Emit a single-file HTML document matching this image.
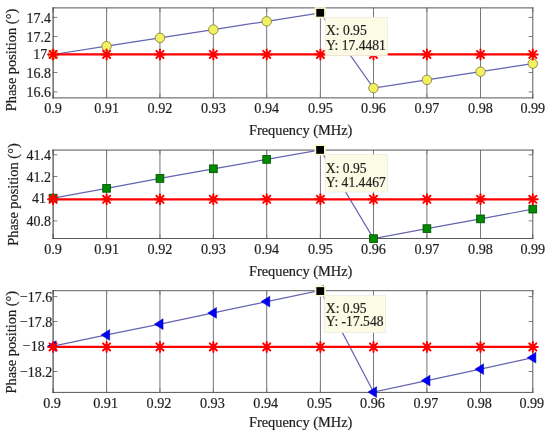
<!DOCTYPE html>
<html><head><meta charset="utf-8"><style>
html,body{margin:0;padding:0;background:#fff;width:550px;height:434px;overflow:hidden}
svg{display:block}
</style></head><body>
<svg width="550" height="434" viewBox="0 0 550 434" font-family="'Liberation Serif','Times New Roman',serif"><style>text{stroke:#1e1e1e;stroke-width:0.2px;paint-order:stroke}</style>
<rect width="550" height="434" fill="#fff"/>
<line x1="106.60" y1="7.90" x2="106.60" y2="97.90" stroke="#767676" stroke-width="1"/>
<line x1="159.95" y1="7.90" x2="159.95" y2="97.90" stroke="#767676" stroke-width="1"/>
<line x1="213.35" y1="7.90" x2="213.35" y2="97.90" stroke="#767676" stroke-width="1"/>
<line x1="266.70" y1="7.90" x2="266.70" y2="97.90" stroke="#767676" stroke-width="1"/>
<line x1="320.40" y1="7.90" x2="320.40" y2="97.90" stroke="#767676" stroke-width="1"/>
<line x1="373.50" y1="7.90" x2="373.50" y2="97.90" stroke="#767676" stroke-width="1"/>
<line x1="426.90" y1="7.90" x2="426.90" y2="97.90" stroke="#767676" stroke-width="1"/>
<line x1="480.50" y1="7.90" x2="480.50" y2="97.90" stroke="#767676" stroke-width="1"/>
<line x1="53.10" y1="93.60" x2="53.10" y2="97.90" stroke="#7e7e7e" stroke-width="1"/>
<line x1="53.10" y1="7.90" x2="53.10" y2="12.20" stroke="#7e7e7e" stroke-width="1"/>
<line x1="106.60" y1="93.60" x2="106.60" y2="97.90" stroke="#7e7e7e" stroke-width="1"/>
<line x1="106.60" y1="7.90" x2="106.60" y2="12.20" stroke="#7e7e7e" stroke-width="1"/>
<line x1="159.95" y1="93.60" x2="159.95" y2="97.90" stroke="#7e7e7e" stroke-width="1"/>
<line x1="159.95" y1="7.90" x2="159.95" y2="12.20" stroke="#7e7e7e" stroke-width="1"/>
<line x1="213.35" y1="93.60" x2="213.35" y2="97.90" stroke="#7e7e7e" stroke-width="1"/>
<line x1="213.35" y1="7.90" x2="213.35" y2="12.20" stroke="#7e7e7e" stroke-width="1"/>
<line x1="266.70" y1="93.60" x2="266.70" y2="97.90" stroke="#7e7e7e" stroke-width="1"/>
<line x1="266.70" y1="7.90" x2="266.70" y2="12.20" stroke="#7e7e7e" stroke-width="1"/>
<line x1="320.40" y1="93.60" x2="320.40" y2="97.90" stroke="#7e7e7e" stroke-width="1"/>
<line x1="320.40" y1="7.90" x2="320.40" y2="12.20" stroke="#7e7e7e" stroke-width="1"/>
<line x1="373.50" y1="93.60" x2="373.50" y2="97.90" stroke="#7e7e7e" stroke-width="1"/>
<line x1="373.50" y1="7.90" x2="373.50" y2="12.20" stroke="#7e7e7e" stroke-width="1"/>
<line x1="426.90" y1="93.60" x2="426.90" y2="97.90" stroke="#7e7e7e" stroke-width="1"/>
<line x1="426.90" y1="7.90" x2="426.90" y2="12.20" stroke="#7e7e7e" stroke-width="1"/>
<line x1="480.50" y1="93.60" x2="480.50" y2="97.90" stroke="#7e7e7e" stroke-width="1"/>
<line x1="480.50" y1="7.90" x2="480.50" y2="12.20" stroke="#7e7e7e" stroke-width="1"/>
<line x1="532.80" y1="93.60" x2="532.80" y2="97.90" stroke="#7e7e7e" stroke-width="1"/>
<line x1="532.80" y1="7.90" x2="532.80" y2="12.20" stroke="#7e7e7e" stroke-width="1"/>
<line x1="53.10" y1="17.40" x2="57.40" y2="17.40" stroke="#7e7e7e" stroke-width="1"/>
<line x1="528.60" y1="17.40" x2="532.80" y2="17.40" stroke="#7e7e7e" stroke-width="1"/>
<line x1="53.10" y1="36.50" x2="57.40" y2="36.50" stroke="#7e7e7e" stroke-width="1"/>
<line x1="528.60" y1="36.50" x2="532.80" y2="36.50" stroke="#7e7e7e" stroke-width="1"/>
<line x1="53.10" y1="53.70" x2="57.40" y2="53.70" stroke="#7e7e7e" stroke-width="1"/>
<line x1="528.60" y1="53.70" x2="532.80" y2="53.70" stroke="#7e7e7e" stroke-width="1"/>
<line x1="53.10" y1="72.50" x2="57.40" y2="72.50" stroke="#7e7e7e" stroke-width="1"/>
<line x1="528.60" y1="72.50" x2="532.80" y2="72.50" stroke="#7e7e7e" stroke-width="1"/>
<line x1="53.10" y1="91.90" x2="57.40" y2="91.90" stroke="#7e7e7e" stroke-width="1"/>
<line x1="528.60" y1="91.90" x2="532.80" y2="91.90" stroke="#7e7e7e" stroke-width="1"/>
<line x1="52.50" y1="7.90" x2="533.40" y2="7.90" stroke="#555555" stroke-width="1"/>
<line x1="52.50" y1="97.90" x2="533.40" y2="97.90" stroke="#555555" stroke-width="1"/>
<line x1="53.10" y1="7.30" x2="53.10" y2="98.50" stroke="#3a3a3a" stroke-width="1.1"/>
<line x1="532.80" y1="7.30" x2="532.80" y2="98.50" stroke="#5a5a5a" stroke-width="1"/>
<polyline points="53.10,54.50 106.60,46.20 159.95,37.90 213.35,29.60 266.70,21.30 320.40,12.90 373.50,88.10 426.90,79.90 480.50,71.70 532.80,63.60" fill="none" stroke="#6464b0" stroke-width="1.2"/>
<circle cx="53.10" cy="54.50" r="4.75" fill="#f4f064" stroke="#84843a" stroke-width="0.9"/>
<circle cx="106.60" cy="46.20" r="4.75" fill="#f4f064" stroke="#84843a" stroke-width="0.9"/>
<circle cx="159.95" cy="37.90" r="4.75" fill="#f4f064" stroke="#84843a" stroke-width="0.9"/>
<circle cx="213.35" cy="29.60" r="4.75" fill="#f4f064" stroke="#84843a" stroke-width="0.9"/>
<circle cx="266.70" cy="21.30" r="4.75" fill="#f4f064" stroke="#84843a" stroke-width="0.9"/>
<circle cx="320.40" cy="12.90" r="4.75" fill="#f4f064" stroke="#84843a" stroke-width="0.9"/>
<circle cx="373.50" cy="88.10" r="4.75" fill="#f4f064" stroke="#84843a" stroke-width="0.9"/>
<circle cx="426.90" cy="79.90" r="4.75" fill="#f4f064" stroke="#84843a" stroke-width="0.9"/>
<circle cx="480.50" cy="71.70" r="4.75" fill="#f4f064" stroke="#84843a" stroke-width="0.9"/>
<circle cx="532.80" cy="63.60" r="4.75" fill="#f4f064" stroke="#84843a" stroke-width="0.9"/>
<line x1="53.10" y1="54.40" x2="532.80" y2="54.40" stroke="#ff0000" stroke-width="2.3"/>
<path d="M48.10 54.40L58.10 54.40M49.56 50.86L56.64 57.94M53.10 49.40L53.10 59.40M56.64 50.86L49.56 57.94" stroke="#ff0000" stroke-width="2.0" stroke-linecap="round" fill="none"/>
<path d="M101.60 54.40L111.60 54.40M103.06 50.86L110.14 57.94M106.60 49.40L106.60 59.40M110.14 50.86L103.06 57.94" stroke="#ff0000" stroke-width="2.0" stroke-linecap="round" fill="none"/>
<path d="M154.95 54.40L164.95 54.40M156.41 50.86L163.49 57.94M159.95 49.40L159.95 59.40M163.49 50.86L156.41 57.94" stroke="#ff0000" stroke-width="2.0" stroke-linecap="round" fill="none"/>
<path d="M208.35 54.40L218.35 54.40M209.81 50.86L216.89 57.94M213.35 49.40L213.35 59.40M216.89 50.86L209.81 57.94" stroke="#ff0000" stroke-width="2.0" stroke-linecap="round" fill="none"/>
<path d="M261.70 54.40L271.70 54.40M263.16 50.86L270.24 57.94M266.70 49.40L266.70 59.40M270.24 50.86L263.16 57.94" stroke="#ff0000" stroke-width="2.0" stroke-linecap="round" fill="none"/>
<path d="M315.40 54.40L325.40 54.40M316.86 50.86L323.94 57.94M320.40 49.40L320.40 59.40M323.94 50.86L316.86 57.94" stroke="#ff0000" stroke-width="2.0" stroke-linecap="round" fill="none"/>
<path d="M368.50 54.40L378.50 54.40M369.96 50.86L377.04 57.94M373.50 49.40L373.50 59.40M377.04 50.86L369.96 57.94" stroke="#ff0000" stroke-width="2.0" stroke-linecap="round" fill="none"/>
<path d="M421.90 54.40L431.90 54.40M423.36 50.86L430.44 57.94M426.90 49.40L426.90 59.40M430.44 50.86L423.36 57.94" stroke="#ff0000" stroke-width="2.0" stroke-linecap="round" fill="none"/>
<path d="M475.50 54.40L485.50 54.40M476.96 50.86L484.04 57.94M480.50 49.40L480.50 59.40M484.04 50.86L476.96 57.94" stroke="#ff0000" stroke-width="2.0" stroke-linecap="round" fill="none"/>
<path d="M527.80 54.40L537.80 54.40M529.26 50.86L536.34 57.94M532.80 49.40L532.80 59.40M536.34 50.86L529.26 57.94" stroke="#ff0000" stroke-width="2.0" stroke-linecap="round" fill="none"/>
<text x="51.00" y="22.80" font-size="14" text-anchor="end" fill="#1e1e1e">17.4</text>
<text x="51.00" y="41.90" font-size="14" text-anchor="end" fill="#1e1e1e">17.2</text>
<text x="47.20" y="59.10" font-size="14" text-anchor="end" fill="#1e1e1e">17</text>
<text x="51.00" y="77.90" font-size="14" text-anchor="end" fill="#1e1e1e">16.8</text>
<text x="51.00" y="97.30" font-size="14" text-anchor="end" fill="#1e1e1e">16.6</text>
<text x="53.10" y="113.20" font-size="14.2" text-anchor="middle" fill="#1e1e1e">0.9</text>
<text x="106.60" y="113.20" font-size="14.2" text-anchor="middle" fill="#1e1e1e">0.91</text>
<text x="159.95" y="113.20" font-size="14.2" text-anchor="middle" fill="#1e1e1e">0.92</text>
<text x="213.35" y="113.20" font-size="14.2" text-anchor="middle" fill="#1e1e1e">0.93</text>
<text x="266.70" y="113.20" font-size="14.2" text-anchor="middle" fill="#1e1e1e">0.94</text>
<text x="320.40" y="113.20" font-size="14.2" text-anchor="middle" fill="#1e1e1e">0.95</text>
<text x="373.50" y="113.20" font-size="14.2" text-anchor="middle" fill="#1e1e1e">0.96</text>
<text x="426.90" y="113.20" font-size="14.2" text-anchor="middle" fill="#1e1e1e">0.97</text>
<text x="480.50" y="113.20" font-size="14.2" text-anchor="middle" fill="#1e1e1e">0.98</text>
<text x="532.80" y="113.20" font-size="14.2" text-anchor="middle" fill="#1e1e1e">0.99</text>
<text x="248.9" y="134.80" font-size="14.4" fill="#1e1e1e">Frequency (MHz)</text>
<text transform="translate(16.10,111.30) rotate(-90)" font-size="14.4" fill="#1e1e1e">Phase position (°)</text>
<rect x="314.60" y="7.20" width="11.2" height="11.2" fill="#fbf8cf"/>
<rect x="316.30" y="8.90" width="7.8" height="7.8" fill="#000"/>
<rect x="325.20" y="17.30" width="62.30" height="38.50" fill="#fcfce6" stroke="#e4e4dc" stroke-width="0.6"/>
<text x="325.90" y="34.60" font-size="13.6" fill="#1e1e1e">X: 0.95</text>
<text x="325.90" y="49.60" font-size="13.6" fill="#1e1e1e">Y: 17.4481</text>
<line x1="106.60" y1="150.07" x2="106.60" y2="238.50" stroke="#767676" stroke-width="1"/>
<line x1="159.95" y1="150.07" x2="159.95" y2="238.50" stroke="#767676" stroke-width="1"/>
<line x1="213.35" y1="150.07" x2="213.35" y2="238.50" stroke="#767676" stroke-width="1"/>
<line x1="266.70" y1="150.07" x2="266.70" y2="238.50" stroke="#767676" stroke-width="1"/>
<line x1="320.40" y1="150.07" x2="320.40" y2="238.50" stroke="#767676" stroke-width="1"/>
<line x1="373.50" y1="150.07" x2="373.50" y2="238.50" stroke="#767676" stroke-width="1"/>
<line x1="426.90" y1="150.07" x2="426.90" y2="238.50" stroke="#767676" stroke-width="1"/>
<line x1="480.50" y1="150.07" x2="480.50" y2="238.50" stroke="#767676" stroke-width="1"/>
<line x1="53.10" y1="234.20" x2="53.10" y2="238.50" stroke="#7e7e7e" stroke-width="1"/>
<line x1="53.10" y1="150.07" x2="53.10" y2="154.37" stroke="#7e7e7e" stroke-width="1"/>
<line x1="106.60" y1="234.20" x2="106.60" y2="238.50" stroke="#7e7e7e" stroke-width="1"/>
<line x1="106.60" y1="150.07" x2="106.60" y2="154.37" stroke="#7e7e7e" stroke-width="1"/>
<line x1="159.95" y1="234.20" x2="159.95" y2="238.50" stroke="#7e7e7e" stroke-width="1"/>
<line x1="159.95" y1="150.07" x2="159.95" y2="154.37" stroke="#7e7e7e" stroke-width="1"/>
<line x1="213.35" y1="234.20" x2="213.35" y2="238.50" stroke="#7e7e7e" stroke-width="1"/>
<line x1="213.35" y1="150.07" x2="213.35" y2="154.37" stroke="#7e7e7e" stroke-width="1"/>
<line x1="266.70" y1="234.20" x2="266.70" y2="238.50" stroke="#7e7e7e" stroke-width="1"/>
<line x1="266.70" y1="150.07" x2="266.70" y2="154.37" stroke="#7e7e7e" stroke-width="1"/>
<line x1="320.40" y1="234.20" x2="320.40" y2="238.50" stroke="#7e7e7e" stroke-width="1"/>
<line x1="320.40" y1="150.07" x2="320.40" y2="154.37" stroke="#7e7e7e" stroke-width="1"/>
<line x1="373.50" y1="234.20" x2="373.50" y2="238.50" stroke="#7e7e7e" stroke-width="1"/>
<line x1="373.50" y1="150.07" x2="373.50" y2="154.37" stroke="#7e7e7e" stroke-width="1"/>
<line x1="426.90" y1="234.20" x2="426.90" y2="238.50" stroke="#7e7e7e" stroke-width="1"/>
<line x1="426.90" y1="150.07" x2="426.90" y2="154.37" stroke="#7e7e7e" stroke-width="1"/>
<line x1="480.50" y1="234.20" x2="480.50" y2="238.50" stroke="#7e7e7e" stroke-width="1"/>
<line x1="480.50" y1="150.07" x2="480.50" y2="154.37" stroke="#7e7e7e" stroke-width="1"/>
<line x1="532.80" y1="234.20" x2="532.80" y2="238.50" stroke="#7e7e7e" stroke-width="1"/>
<line x1="532.80" y1="150.07" x2="532.80" y2="154.37" stroke="#7e7e7e" stroke-width="1"/>
<line x1="53.10" y1="154.80" x2="57.40" y2="154.80" stroke="#7e7e7e" stroke-width="1"/>
<line x1="528.60" y1="154.80" x2="532.80" y2="154.80" stroke="#7e7e7e" stroke-width="1"/>
<line x1="53.10" y1="176.50" x2="57.40" y2="176.50" stroke="#7e7e7e" stroke-width="1"/>
<line x1="528.60" y1="176.50" x2="532.80" y2="176.50" stroke="#7e7e7e" stroke-width="1"/>
<line x1="53.10" y1="197.50" x2="57.40" y2="197.50" stroke="#7e7e7e" stroke-width="1"/>
<line x1="528.60" y1="197.50" x2="532.80" y2="197.50" stroke="#7e7e7e" stroke-width="1"/>
<line x1="53.10" y1="220.90" x2="57.40" y2="220.90" stroke="#7e7e7e" stroke-width="1"/>
<line x1="528.60" y1="220.90" x2="532.80" y2="220.90" stroke="#7e7e7e" stroke-width="1"/>
<line x1="52.50" y1="150.07" x2="533.40" y2="150.07" stroke="#555555" stroke-width="1"/>
<line x1="52.50" y1="238.50" x2="533.40" y2="238.50" stroke="#5a5a5a" stroke-width="1"/>
<line x1="53.10" y1="149.47" x2="53.10" y2="239.10" stroke="#3a3a3a" stroke-width="1.1"/>
<line x1="532.80" y1="149.47" x2="532.80" y2="239.10" stroke="#5a5a5a" stroke-width="1"/>
<polyline points="53.10,198.10 106.60,188.30 159.95,178.40 213.35,168.80 266.70,159.40 320.40,150.00 373.50,238.65 426.90,228.65 480.50,218.90 532.80,209.10" fill="none" stroke="#6464b0" stroke-width="1.2"/>
<rect x="49.20" y="194.20" width="7.8" height="7.8" fill="#008a00" stroke="#004d00" stroke-width="0.8"/>
<rect x="102.70" y="184.40" width="7.8" height="7.8" fill="#008a00" stroke="#004d00" stroke-width="0.8"/>
<rect x="156.05" y="174.50" width="7.8" height="7.8" fill="#008a00" stroke="#004d00" stroke-width="0.8"/>
<rect x="209.45" y="164.90" width="7.8" height="7.8" fill="#008a00" stroke="#004d00" stroke-width="0.8"/>
<rect x="262.80" y="155.50" width="7.8" height="7.8" fill="#008a00" stroke="#004d00" stroke-width="0.8"/>
<rect x="316.50" y="146.10" width="7.8" height="7.8" fill="#008a00" stroke="#004d00" stroke-width="0.8"/>
<rect x="369.60" y="234.75" width="7.8" height="7.8" fill="#008a00" stroke="#004d00" stroke-width="0.8"/>
<rect x="423.00" y="224.75" width="7.8" height="7.8" fill="#008a00" stroke="#004d00" stroke-width="0.8"/>
<rect x="476.60" y="215.00" width="7.8" height="7.8" fill="#008a00" stroke="#004d00" stroke-width="0.8"/>
<rect x="528.90" y="205.20" width="7.8" height="7.8" fill="#008a00" stroke="#004d00" stroke-width="0.8"/>
<line x1="53.10" y1="199.35" x2="532.80" y2="199.35" stroke="#ff0000" stroke-width="2.3"/>
<path d="M48.10 199.35L58.10 199.35M49.56 195.81L56.64 202.89M53.10 194.35L53.10 204.35M56.64 195.81L49.56 202.89" stroke="#ff0000" stroke-width="2.0" stroke-linecap="round" fill="none"/>
<path d="M101.60 199.35L111.60 199.35M103.06 195.81L110.14 202.89M106.60 194.35L106.60 204.35M110.14 195.81L103.06 202.89" stroke="#ff0000" stroke-width="2.0" stroke-linecap="round" fill="none"/>
<path d="M154.95 199.35L164.95 199.35M156.41 195.81L163.49 202.89M159.95 194.35L159.95 204.35M163.49 195.81L156.41 202.89" stroke="#ff0000" stroke-width="2.0" stroke-linecap="round" fill="none"/>
<path d="M208.35 199.35L218.35 199.35M209.81 195.81L216.89 202.89M213.35 194.35L213.35 204.35M216.89 195.81L209.81 202.89" stroke="#ff0000" stroke-width="2.0" stroke-linecap="round" fill="none"/>
<path d="M261.70 199.35L271.70 199.35M263.16 195.81L270.24 202.89M266.70 194.35L266.70 204.35M270.24 195.81L263.16 202.89" stroke="#ff0000" stroke-width="2.0" stroke-linecap="round" fill="none"/>
<path d="M315.40 199.35L325.40 199.35M316.86 195.81L323.94 202.89M320.40 194.35L320.40 204.35M323.94 195.81L316.86 202.89" stroke="#ff0000" stroke-width="2.0" stroke-linecap="round" fill="none"/>
<path d="M368.50 199.35L378.50 199.35M369.96 195.81L377.04 202.89M373.50 194.35L373.50 204.35M377.04 195.81L369.96 202.89" stroke="#ff0000" stroke-width="2.0" stroke-linecap="round" fill="none"/>
<path d="M421.90 199.35L431.90 199.35M423.36 195.81L430.44 202.89M426.90 194.35L426.90 204.35M430.44 195.81L423.36 202.89" stroke="#ff0000" stroke-width="2.0" stroke-linecap="round" fill="none"/>
<path d="M475.50 199.35L485.50 199.35M476.96 195.81L484.04 202.89M480.50 194.35L480.50 204.35M484.04 195.81L476.96 202.89" stroke="#ff0000" stroke-width="2.0" stroke-linecap="round" fill="none"/>
<path d="M527.80 199.35L537.80 199.35M529.26 195.81L536.34 202.89M532.80 194.35L532.80 204.35M536.34 195.81L529.26 202.89" stroke="#ff0000" stroke-width="2.0" stroke-linecap="round" fill="none"/>
<text x="51.00" y="160.20" font-size="14" text-anchor="end" fill="#1e1e1e">41.4</text>
<text x="51.00" y="181.90" font-size="14" text-anchor="end" fill="#1e1e1e">41.2</text>
<text x="46.00" y="202.90" font-size="14" text-anchor="end" fill="#1e1e1e">41</text>
<text x="51.00" y="226.30" font-size="14" text-anchor="end" fill="#1e1e1e">40.8</text>
<text x="53.10" y="253.80" font-size="14.2" text-anchor="middle" fill="#1e1e1e">0.9</text>
<text x="106.60" y="253.80" font-size="14.2" text-anchor="middle" fill="#1e1e1e">0.91</text>
<text x="159.95" y="253.80" font-size="14.2" text-anchor="middle" fill="#1e1e1e">0.92</text>
<text x="213.35" y="253.80" font-size="14.2" text-anchor="middle" fill="#1e1e1e">0.93</text>
<text x="266.70" y="253.80" font-size="14.2" text-anchor="middle" fill="#1e1e1e">0.94</text>
<text x="320.40" y="253.80" font-size="14.2" text-anchor="middle" fill="#1e1e1e">0.95</text>
<text x="373.50" y="253.80" font-size="14.2" text-anchor="middle" fill="#1e1e1e">0.96</text>
<text x="426.90" y="253.80" font-size="14.2" text-anchor="middle" fill="#1e1e1e">0.97</text>
<text x="480.50" y="253.80" font-size="14.2" text-anchor="middle" fill="#1e1e1e">0.98</text>
<text x="532.80" y="253.80" font-size="14.2" text-anchor="middle" fill="#1e1e1e">0.99</text>
<text x="248.9" y="275.70" font-size="14.4" fill="#1e1e1e">Frequency (MHz)</text>
<text transform="translate(17.50,245.80) rotate(-90)" font-size="14.4" fill="#1e1e1e">Phase position (°)</text>
<rect x="314.50" y="144.30" width="11.2" height="11.2" fill="#fbf8cf"/>
<rect x="316.20" y="146.00" width="7.8" height="7.8" fill="#000"/>
<rect x="325.20" y="154.70" width="62.10" height="37.30" fill="#fcfce6" stroke="#e4e4dc" stroke-width="0.6"/>
<text x="325.85" y="173.00" font-size="13.6" fill="#1e1e1e">X: 0.95</text>
<text x="325.85" y="187.00" font-size="13.6" fill="#1e1e1e">Y: 41.4467</text>
<line x1="106.60" y1="290.70" x2="106.60" y2="392.40" stroke="#767676" stroke-width="1"/>
<line x1="159.95" y1="290.70" x2="159.95" y2="392.40" stroke="#767676" stroke-width="1"/>
<line x1="213.35" y1="290.70" x2="213.35" y2="392.40" stroke="#767676" stroke-width="1"/>
<line x1="266.70" y1="290.70" x2="266.70" y2="392.40" stroke="#767676" stroke-width="1"/>
<line x1="320.40" y1="290.70" x2="320.40" y2="392.40" stroke="#767676" stroke-width="1"/>
<line x1="373.50" y1="290.70" x2="373.50" y2="392.40" stroke="#767676" stroke-width="1"/>
<line x1="426.90" y1="290.70" x2="426.90" y2="392.40" stroke="#767676" stroke-width="1"/>
<line x1="480.50" y1="290.70" x2="480.50" y2="392.40" stroke="#767676" stroke-width="1"/>
<line x1="53.10" y1="388.10" x2="53.10" y2="392.40" stroke="#7e7e7e" stroke-width="1"/>
<line x1="53.10" y1="290.70" x2="53.10" y2="295.00" stroke="#7e7e7e" stroke-width="1"/>
<line x1="106.60" y1="388.10" x2="106.60" y2="392.40" stroke="#7e7e7e" stroke-width="1"/>
<line x1="106.60" y1="290.70" x2="106.60" y2="295.00" stroke="#7e7e7e" stroke-width="1"/>
<line x1="159.95" y1="388.10" x2="159.95" y2="392.40" stroke="#7e7e7e" stroke-width="1"/>
<line x1="159.95" y1="290.70" x2="159.95" y2="295.00" stroke="#7e7e7e" stroke-width="1"/>
<line x1="213.35" y1="388.10" x2="213.35" y2="392.40" stroke="#7e7e7e" stroke-width="1"/>
<line x1="213.35" y1="290.70" x2="213.35" y2="295.00" stroke="#7e7e7e" stroke-width="1"/>
<line x1="266.70" y1="388.10" x2="266.70" y2="392.40" stroke="#7e7e7e" stroke-width="1"/>
<line x1="266.70" y1="290.70" x2="266.70" y2="295.00" stroke="#7e7e7e" stroke-width="1"/>
<line x1="320.40" y1="388.10" x2="320.40" y2="392.40" stroke="#7e7e7e" stroke-width="1"/>
<line x1="320.40" y1="290.70" x2="320.40" y2="295.00" stroke="#7e7e7e" stroke-width="1"/>
<line x1="373.50" y1="388.10" x2="373.50" y2="392.40" stroke="#7e7e7e" stroke-width="1"/>
<line x1="373.50" y1="290.70" x2="373.50" y2="295.00" stroke="#7e7e7e" stroke-width="1"/>
<line x1="426.90" y1="388.10" x2="426.90" y2="392.40" stroke="#7e7e7e" stroke-width="1"/>
<line x1="426.90" y1="290.70" x2="426.90" y2="295.00" stroke="#7e7e7e" stroke-width="1"/>
<line x1="480.50" y1="388.10" x2="480.50" y2="392.40" stroke="#7e7e7e" stroke-width="1"/>
<line x1="480.50" y1="290.70" x2="480.50" y2="295.00" stroke="#7e7e7e" stroke-width="1"/>
<line x1="532.80" y1="388.10" x2="532.80" y2="392.40" stroke="#7e7e7e" stroke-width="1"/>
<line x1="532.80" y1="290.70" x2="532.80" y2="295.00" stroke="#7e7e7e" stroke-width="1"/>
<line x1="53.10" y1="296.60" x2="57.40" y2="296.60" stroke="#7e7e7e" stroke-width="1"/>
<line x1="528.60" y1="296.60" x2="532.80" y2="296.60" stroke="#7e7e7e" stroke-width="1"/>
<line x1="53.10" y1="321.50" x2="57.40" y2="321.50" stroke="#7e7e7e" stroke-width="1"/>
<line x1="528.60" y1="321.50" x2="532.80" y2="321.50" stroke="#7e7e7e" stroke-width="1"/>
<line x1="53.10" y1="345.90" x2="57.40" y2="345.90" stroke="#7e7e7e" stroke-width="1"/>
<line x1="528.60" y1="345.90" x2="532.80" y2="345.90" stroke="#7e7e7e" stroke-width="1"/>
<line x1="53.10" y1="371.50" x2="57.40" y2="371.50" stroke="#7e7e7e" stroke-width="1"/>
<line x1="528.60" y1="371.50" x2="532.80" y2="371.50" stroke="#7e7e7e" stroke-width="1"/>
<line x1="52.50" y1="290.70" x2="533.40" y2="290.70" stroke="#606060" stroke-width="1"/>
<line x1="52.50" y1="392.40" x2="533.40" y2="392.40" stroke="#555555" stroke-width="1"/>
<line x1="53.10" y1="290.10" x2="53.10" y2="393.00" stroke="#3a3a3a" stroke-width="1.1"/>
<line x1="532.80" y1="290.10" x2="532.80" y2="393.00" stroke="#5a5a5a" stroke-width="1"/>
<polyline points="53.10,346.10 106.60,334.90 159.95,324.20 213.35,312.90 266.70,301.60 320.40,290.40 373.50,392.05 426.90,380.60 480.50,369.15 532.80,357.70" fill="none" stroke="#6464b0" stroke-width="1.2"/>
<path d="M47.50 346.10L56.20 340.70L56.20 351.50Z" fill="#0000f8" stroke="#0000a0" stroke-width="0.5" stroke-linejoin="round"/>
<path d="M101.00 334.90L109.70 329.50L109.70 340.30Z" fill="#0000f8" stroke="#0000a0" stroke-width="0.5" stroke-linejoin="round"/>
<path d="M154.35 324.20L163.05 318.80L163.05 329.60Z" fill="#0000f8" stroke="#0000a0" stroke-width="0.5" stroke-linejoin="round"/>
<path d="M207.75 312.90L216.45 307.50L216.45 318.30Z" fill="#0000f8" stroke="#0000a0" stroke-width="0.5" stroke-linejoin="round"/>
<path d="M261.10 301.60L269.80 296.20L269.80 307.00Z" fill="#0000f8" stroke="#0000a0" stroke-width="0.5" stroke-linejoin="round"/>
<path d="M314.80 290.40L323.50 285.00L323.50 295.80Z" fill="#0000f8" stroke="#0000a0" stroke-width="0.5" stroke-linejoin="round"/>
<path d="M367.90 392.05L376.60 386.65L376.60 397.45Z" fill="#0000f8" stroke="#0000a0" stroke-width="0.5" stroke-linejoin="round"/>
<path d="M421.30 380.60L430.00 375.20L430.00 386.00Z" fill="#0000f8" stroke="#0000a0" stroke-width="0.5" stroke-linejoin="round"/>
<path d="M474.90 369.15L483.60 363.75L483.60 374.55Z" fill="#0000f8" stroke="#0000a0" stroke-width="0.5" stroke-linejoin="round"/>
<path d="M527.20 357.70L535.90 352.30L535.90 363.10Z" fill="#0000f8" stroke="#0000a0" stroke-width="0.5" stroke-linejoin="round"/>
<line x1="53.10" y1="346.90" x2="532.80" y2="346.90" stroke="#ff0000" stroke-width="2.3"/>
<path d="M48.10 346.90L58.10 346.90M49.56 343.36L56.64 350.44M53.10 341.90L53.10 351.90M56.64 343.36L49.56 350.44" stroke="#ff0000" stroke-width="2.0" stroke-linecap="round" fill="none"/>
<path d="M101.60 346.90L111.60 346.90M103.06 343.36L110.14 350.44M106.60 341.90L106.60 351.90M110.14 343.36L103.06 350.44" stroke="#ff0000" stroke-width="2.0" stroke-linecap="round" fill="none"/>
<path d="M154.95 346.90L164.95 346.90M156.41 343.36L163.49 350.44M159.95 341.90L159.95 351.90M163.49 343.36L156.41 350.44" stroke="#ff0000" stroke-width="2.0" stroke-linecap="round" fill="none"/>
<path d="M208.35 346.90L218.35 346.90M209.81 343.36L216.89 350.44M213.35 341.90L213.35 351.90M216.89 343.36L209.81 350.44" stroke="#ff0000" stroke-width="2.0" stroke-linecap="round" fill="none"/>
<path d="M261.70 346.90L271.70 346.90M263.16 343.36L270.24 350.44M266.70 341.90L266.70 351.90M270.24 343.36L263.16 350.44" stroke="#ff0000" stroke-width="2.0" stroke-linecap="round" fill="none"/>
<path d="M315.40 346.90L325.40 346.90M316.86 343.36L323.94 350.44M320.40 341.90L320.40 351.90M323.94 343.36L316.86 350.44" stroke="#ff0000" stroke-width="2.0" stroke-linecap="round" fill="none"/>
<path d="M368.50 346.90L378.50 346.90M369.96 343.36L377.04 350.44M373.50 341.90L373.50 351.90M377.04 343.36L369.96 350.44" stroke="#ff0000" stroke-width="2.0" stroke-linecap="round" fill="none"/>
<path d="M421.90 346.90L431.90 346.90M423.36 343.36L430.44 350.44M426.90 341.90L426.90 351.90M430.44 343.36L423.36 350.44" stroke="#ff0000" stroke-width="2.0" stroke-linecap="round" fill="none"/>
<path d="M475.50 346.90L485.50 346.90M476.96 343.36L484.04 350.44M480.50 341.90L480.50 351.90M484.04 343.36L476.96 350.44" stroke="#ff0000" stroke-width="2.0" stroke-linecap="round" fill="none"/>
<path d="M527.80 346.90L537.80 346.90M529.26 343.36L536.34 350.44M532.80 341.90L532.80 351.90M536.34 343.36L529.26 350.44" stroke="#ff0000" stroke-width="2.0" stroke-linecap="round" fill="none"/>
<text x="52.30" y="301.60" font-size="14" text-anchor="end" fill="#1e1e1e"><tspan dy="-0.8">−</tspan><tspan dy="0.8">17.6</tspan></text>
<text x="52.30" y="326.50" font-size="14" text-anchor="end" fill="#1e1e1e"><tspan dy="-0.8">−</tspan><tspan dy="0.8">17.8</tspan></text>
<text x="44.70" y="350.90" font-size="14" text-anchor="end" fill="#1e1e1e"><tspan dy="-0.8">−</tspan><tspan dy="0.8">18</tspan></text>
<text x="52.30" y="376.50" font-size="14" text-anchor="end" fill="#1e1e1e"><tspan dy="-0.8">−</tspan><tspan dy="0.8">18.2</tspan></text>
<text x="52.10" y="407.70" font-size="14.2" text-anchor="middle" fill="#1e1e1e">0.9</text>
<text x="105.60" y="407.70" font-size="14.2" text-anchor="middle" fill="#1e1e1e">0.91</text>
<text x="158.95" y="407.70" font-size="14.2" text-anchor="middle" fill="#1e1e1e">0.92</text>
<text x="212.35" y="407.70" font-size="14.2" text-anchor="middle" fill="#1e1e1e">0.93</text>
<text x="265.70" y="407.70" font-size="14.2" text-anchor="middle" fill="#1e1e1e">0.94</text>
<text x="319.40" y="407.70" font-size="14.2" text-anchor="middle" fill="#1e1e1e">0.95</text>
<text x="372.50" y="407.70" font-size="14.2" text-anchor="middle" fill="#1e1e1e">0.96</text>
<text x="425.90" y="407.70" font-size="14.2" text-anchor="middle" fill="#1e1e1e">0.97</text>
<text x="479.50" y="407.70" font-size="14.2" text-anchor="middle" fill="#1e1e1e">0.98</text>
<text x="531.80" y="407.70" font-size="14.2" text-anchor="middle" fill="#1e1e1e">0.99</text>
<text x="248.9" y="426.70" font-size="14.4" fill="#1e1e1e">Frequency (MHz)</text>
<text transform="translate(15.70,393.40) rotate(-90)" font-size="14.4" fill="#1e1e1e">Phase position (°)</text>
<rect x="314.65" y="285.45" width="11.2" height="11.2" fill="#fbf8cf"/>
<rect x="316.35" y="287.15" width="7.8" height="7.8" fill="#000"/>
<rect x="324.70" y="295.60" width="60.90" height="37.10" fill="#fcfce6" stroke="#e4e4dc" stroke-width="0.6"/>
<text x="325.85" y="312.60" font-size="13.6" fill="#1e1e1e">X: 0.95</text>
<text x="325.85" y="325.70" font-size="13.6" fill="#1e1e1e">Y: -17.548</text>
</svg>
</body></html>
